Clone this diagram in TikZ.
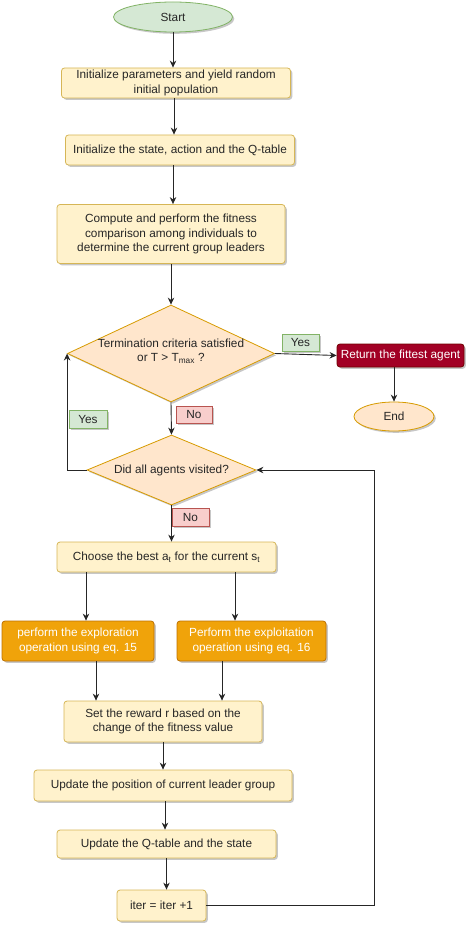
\documentclass[tikz,border=0pt]{standalone}
\usepackage{fontspec}
\setmainfont{Liberation Sans}
\usetikzlibrary{shapes.geometric,arrows.meta,shadows}
\definecolor{ybox}{HTML}{FFF2CC}
\definecolor{ybord}{HTML}{D6B656}
\definecolor{obox}{HTML}{FFE6CC}
\definecolor{obord}{HTML}{D79B00}
\definecolor{gbox}{HTML}{D5E8D4}
\definecolor{gbord}{HTML}{82B366}
\definecolor{rbox}{HTML}{F8CECC}
\definecolor{rbord}{HTML}{B85450}
\definecolor{dred}{HTML}{A20025}
\definecolor{dredb}{HTML}{6F0000}
\definecolor{orfill}{HTML}{F0A30A}
\definecolor{orbord}{HTML}{BD7000}
\definecolor{ink}{HTML}{262626}
\tikzset{
  shad/.style={drop shadow={shadow xshift=1.8pt,shadow yshift=-1.8pt,opacity=0.22,fill=black}},
  ybx/.style={draw=ybord,fill=ybox,rounded corners=3pt,align=center,inner sep=1pt,shad,text=ink,line width=0.8pt},
  obx/.style={draw=orbord,fill=orfill,rounded corners=3pt,align=center,inner sep=1pt,shad,text=white,line width=0.8pt},
  dia/.style={draw=obord,fill=obox,diamond,inner sep=0pt,shad,line width=0.8pt},
  yeslab/.style={draw=gbord,fill=gbox,inner sep=0pt,shad,text=ink,line width=0.6pt},
  nolab/.style={draw=rbord,fill=rbox,inner sep=0pt,shad,text=ink,line width=0.6pt},
  arr/.style={draw=ink,line width=0.9pt,-{Stealth[length=7pt,width=6.5pt]}},
  txt/.style={text=ink,align=center,inner sep=0pt},
}
\begin{document}
\begin{tikzpicture}[x=1pt,y=-1pt,font=\fontsize{11.8}{14.4}\selectfont]
\useasboundingbox (0,0) rectangle (474,931);
% nodes
\node[ellipse,draw=gbord,fill=gbox,shad,minimum width=119pt,minimum height=30pt,inner sep=0pt,text=ink,line width=0.8pt] (start) at (173,17) {Start};
\node[ybx,minimum width=229pt,minimum height=30pt] (b1) at (176,83) {Initialize parameters and yield random\\initial population};
\node[ybx,minimum width=229pt,minimum height=30pt] (b2) at (180,150) {Initialize the state, action and the Q-table};
\node[ybx,minimum width=228pt,minimum height=59pt] (b3) at (171,234) {Compute and perform the fitness\\comparison among individuals to\\determine the current group leaders};
\node[dia,minimum width=207pt,minimum height=97pt] (d1) at (171,353.5) {};
\node[txt] (d1t) at (171,351) {Termination criteria satisfied\\or T > T\textsubscript{max} ?};
\node[draw=dredb,fill=dred,rounded corners=3pt,shad,minimum width=127pt,minimum height=23pt,inner sep=0pt,text=white,line width=0.8pt] (ret) at (400.5,355.5) {Return the fittest agent};
\node[ellipse,draw=obord,fill=obox,shad,minimum width=80pt,minimum height=29pt,inner sep=0pt,text=ink,line width=0.8pt] (end) at (394,416.5) {End};
\node[dia,minimum width=169pt,minimum height=70pt] (d2) at (171.5,470) {};
\node[txt] (d2t) at (171.5,470) {Did all agents visited?};
\node[ybx,minimum width=219pt,minimum height=30pt] (choose) at (166.5,557) {Choose the best a\textsubscript{t} for the current s\textsubscript{t}};
\node[obx,minimum width=152pt,minimum height=40pt] (explore) at (78,641) {perform the exploration\\operation using eq. 15};
\node[obx,minimum width=149pt,minimum height=40pt] (exploit) at (251.5,641) {Perform the exploitation\\operation using eq. 16};
\node[ybx,minimum width=198pt,minimum height=41pt] (reward) at (163,721.5) {Set the reward r based on the\\change of the fitness value};
\node[ybx,minimum width=258pt,minimum height=31pt] (pos) at (163,785.5) {Update the position of current leader group};
\node[ybx,minimum width=219pt,minimum height=28pt] (qt) at (166.5,844) {Update the Q-table and the state};
\node[ybx,minimum width=89pt,minimum height=31pt] (iter) at (161.5,905.5) {iter = iter +1};
% labels
\node[yeslab,minimum width=37pt,minimum height=17pt] (yes1) at (300.5,342.5) {Yes};
\node[yeslab,minimum width=38pt,minimum height=18pt] (yes2) at (88,419) {Yes};
\node[nolab,minimum width=36pt,minimum height=17pt] (no1) at (194,414.5) {No};
\node[nolab,minimum width=37pt,minimum height=18pt] (no2) at (190.5,517) {No};
% helper coordinates
\coordinate (cL) at (86,0);
\coordinate (cR) at (235,0);
\coordinate (eL) at (96,0);
\coordinate (eR) at (222,0);
\coordinate (x174) at (174,0);
\coordinate (x173) at (173,0);
\coordinate (x165) at (165,0);
\coordinate (loopx) at (374,0);
% connectors
\draw[arr] (start.south) -- (start.south |- b1.north);
\draw[arr] (x174 |- b1.south) -- (x174 |- b2.north);
\draw[arr] (x173 |- b2.south) -- (x173 |- b3.north);
\draw[arr] (b3.south) -- (d1.north);
\draw[arr] (d1.east) -- (ret.west);
\draw[arr] (end |- ret.south) -- (end.north);
\draw[arr] (d1.south) -- (d2.north);
\draw[arr] (d2.west) -| (d1.west);
\draw[arr] (d2.south) -- (d2.south |- choose.north);
\draw[arr] (cL |- choose.south) -- (cL |- explore.north);
\draw[arr] (cR |- choose.south) -- (cR |- exploit.north);
\draw[arr] (eL |- explore.south) -- (eL |- reward.north);
\draw[arr] (eR |- exploit.south) -- (eR |- reward.north);
\draw[arr] (reward.south) -- (reward.south |- pos.north);
\draw[arr] (x165 |- pos.south) -- (x165 |- qt.north);
\draw[arr] (qt.south) -- (qt.south |- iter.north);
\draw[arr] (iter.east) -- (iter.east -| loopx) |- (d2.east);
\end{tikzpicture}
\end{document}
